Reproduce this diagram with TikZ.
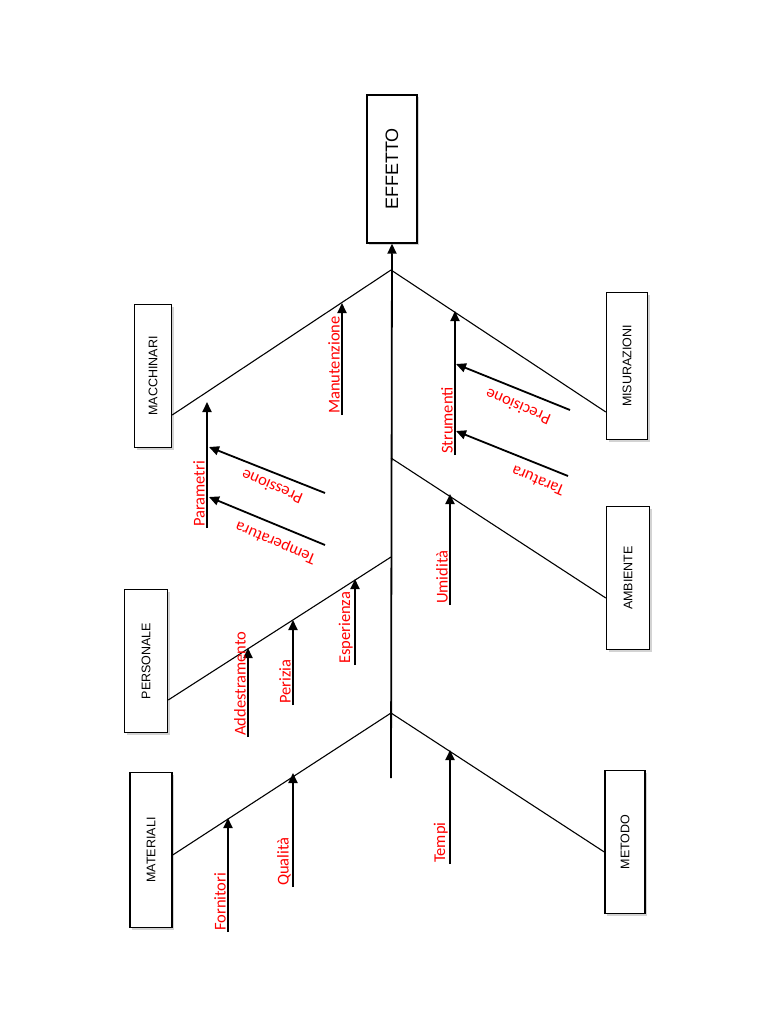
\documentclass[tikz,border=0pt]{standalone}
\usepackage{fontspec}
\setmainfont{Liberation Sans}
\newfontfamily\lab{Carlito}
\usetikzlibrary{arrows.meta,shadows}
\begin{document}
\begin{tikzpicture}[x=1pt,y=-1pt,
  box/.style={draw,line width=1.4pt,fill=white,drop shadow={opacity=0.35,shadow xshift=2pt,shadow yshift=-2pt},minimum width=#1,inner sep=0pt},
  lbl/.style={text=red,font=\lab\fontsize{16.5}{16.5}\selectfont,inner sep=1pt},
  arr/.style={line width=1.8pt,-{Triangle[length=10pt,width=9pt]}},
  ln/.style={line width=1.1pt}]
\useasboundingbox (0,0) rectangle (768,1024);
% boxes
\node[box=148pt,minimum height=50pt,rotate=90,font=\fontsize{18}{18}\selectfont] (eff) at (392,169) {EFFETTO};
\node[box=143pt,minimum height=37pt,rotate=90,font=\fontsize{12.5}{12.5}\selectfont] (mac) at (153,376) {MACCHINARI};
\node[box=147pt,minimum height=41pt,rotate=90,font=\fontsize{12.5}{12.5}\selectfont] (mis) at (627,366) {MISURAZIONI};
\node[box=143pt,minimum height=43pt,rotate=90,font=\fontsize{12.5}{12.5}\selectfont] (per) at (146,661) {PERSONALE};
\node[box=143pt,minimum height=43pt,rotate=90,font=\fontsize{12.5}{12.5}\selectfont] (amb) at (628,578) {AMBIENTE};
\node[box=155pt,minimum height=42pt,rotate=90,font=\fontsize{12.5}{12.5}\selectfont] (mat) at (151,850) {MATERIALI};
\node[box=143pt,minimum height=40pt,rotate=90,font=\fontsize{12.5}{12.5}\selectfont] (met) at (625,842) {METODO};
% spine
\coordinate (s0) at (391,778);
\coordinate (j1) at (391,270);
\coordinate (j2) at (391,557);
\coordinate (j3) at (391,458);
\coordinate (j4) at (391,713);
\draw[arr] (s0) -- (eff.west);
\draw[ln] (mac.south |- 0,415) -- (j1);
\draw[ln] (mis.north |- 0,412) -- (j1);
\draw[ln] (per.south |- 0,700) -- (j2);
\draw[ln] (amb.north |- 0,598) -- (j3);
\draw[ln] (mat.south |- 0,855) -- (j4);
\draw[ln] (met.north |- 0,852) -- (j4);
% vertical cause arrows
\foreach \n/\x/\a/\b/\t in {man/342/415/303/Manutenzione, par/207/528/402/Parametri, str/455/455/311/Strumenti, umi/450/605/494/Umidità, add/248/737/648/Addestramento, per2/293/705/620/Perizia, esp/355/665/579/Esperienza, for/228/932/818/Fornitori, qua/293/887/773/Qualità, tem/450/864/750/Tempi}{
  \coordinate (\n a) at (\x,\a); \coordinate (\n b) at (\x,\b);
  \draw[arr] (\n a) -- (\n b);
  \node[lbl,rotate=90,anchor=south west] at (\x-1,\a) {\t};
}
% slanted arrows
\coordinate (tA) at (325,545); \coordinate (tB) at (209,497);
\coordinate (pA) at (325,493); \coordinate (pB) at (209,447);
\coordinate (prA) at (570,410); \coordinate (prB) at (456,364);
\coordinate (taA) at (568,476); \coordinate (taB) at (456,431);
\draw[arr] (tA) -- (tB);
\draw[arr] (pA) -- (pB);
\draw[arr] (prA) -- (prB);
\draw[arr] (taA) -- (taB);
\node[lbl,rotate=157] at (276,542) {Temperatura};
\node[lbl,rotate=157] at (272,487) {Pressione};
\node[lbl,rotate=157] at (518,407) {Precisione};
\node[lbl,rotate=157] at (538,481) {Taratura};
\end{tikzpicture}
\end{document}
